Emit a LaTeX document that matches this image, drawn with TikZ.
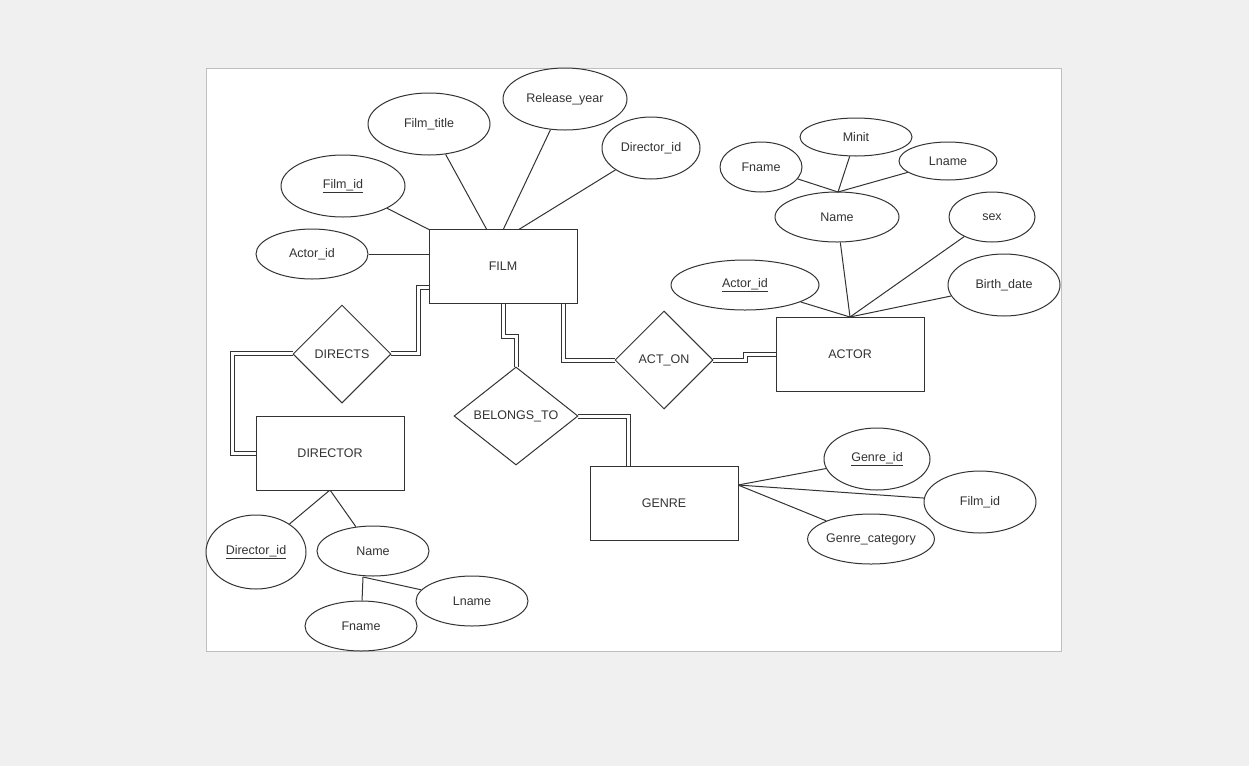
\documentclass[tikz,border=0pt]{standalone}
\usepackage{fontspec}
\setmainfont{Liberation Sans}
\usetikzlibrary{shapes.geometric}
\begin{document}
\begin{tikzpicture}[x=1pt,y=-1pt,
  every node/.style={font=\fontsize{12.5}{14}\selectfont, text=black!80},
  ent/.style={draw=black!80, line width=1pt, fill=white, minimum width=148pt, minimum height=74pt, inner sep=0pt},
  rel/.style={draw=black!80, line width=1pt, fill=white, diamond, inner sep=0pt, minimum width=#1, minimum height=98pt},
  att/.style args={#1/#2}{draw=black!80, line width=1pt, fill=white, ellipse, inner sep=0pt, minimum width=#1, minimum height=#2},
  ln/.style={draw=black!80, line width=1pt},
  dbl/.style={draw=black!80, line width=5pt, postaction={draw=white, line width=3pt}}]
\fill[black!6] (0,0) rectangle (1249,766);
\fill[white] (206,68) rectangle (1061,651);
\draw[black!25] (206,68) rectangle (1061,651);
\useasboundingbox (0,0) rectangle (1249,766);
\coordinate (fa) at (487,230); \coordinate (fb) at (503,230); \coordinate (fc) at (518,230);
\coordinate (fd) at (430,230); \coordinate (fe) at (430,254);
\coordinate (ap) at (850,317); \coordinate (np) at (838,192);
\coordinate (gp) at (738,485); \coordinate (dp) at (330,490); \coordinate (dn) at (363,577);
\node[att=122pt/62pt] (ftitle) at (429,124) {Film\_title};
\node[att=124pt/62pt] (ryear) at (565,99) {Release\_year};
\node[att=98pt/62pt] (dirid) at (651,148) {Director\_id};
\node[att=124pt/62pt] (filmid) at (343,186) {\underline{Film\_id}};
\node[att=112pt/50pt] (actid) at (312,254) {Actor\_id};
\node[att=112pt/38pt] (minit) at (856,137) {Minit};
\node[att=82pt/50pt] (afname) at (761,167) {Fname};
\node[att=98pt/38pt] (alname) at (948,161) {Lname};
\node[att=124pt/50pt] (aname) at (837,217) {Name};
\node[att=86pt/50pt] (sex) at (992,217) {sex};
\node[att=148pt/50pt] (aid) at (745,285) {\underline{Actor\_id}};
\node[att=112pt/62pt] (bdate) at (1004,285) {Birth\_date};
\node[att=106pt/62pt] (gid) at (877,459) {\underline{Genre\_id}};
\node[att=112pt/62pt] (gfid) at (980,502) {Film\_id};
\node[att=118pt/50pt] (gcat) at (871,539) {Genre\_category};
\node[att=100pt/74pt] (did) at (256,552) {\underline{Director\_id}};
\node[att=112pt/50pt] (dname) at (373,551) {Name};
\node[att=112pt/50pt] (dlname) at (472,601) {Lname};
\node[att=112pt/50pt] (dfname) at (361,626) {Fname};
\draw[ln] (ftitle) -- (fa); \draw[ln] (ryear) -- (fb); \draw[ln] (dirid) -- (fc);
\draw[ln] (filmid) -- (fd); \draw[ln] (actid) -- (fe);
\draw[ln] (aname) -- (ap); \draw[ln] (sex) -- (ap); \draw[ln] (bdate) -- (ap); \draw[ln] (aid) -- (ap);
\draw[ln] (afname) -- (np); \draw[ln] (minit) -- (np); \draw[ln] (alname) -- (np);
\draw[ln] (gid) -- (gp); \draw[ln] (gfid) -- (gp); \draw[ln] (gcat) -- (gp);
\draw[ln] (dp) -- (did); \draw[ln] (dp) -- (dname);
\draw[ln] (dn) -- (dlname); \draw[ln] (dn) -- (dfname);
\coordinate (c1) at (430,287); \coordinate (c2) at (418,287); \coordinate (c3) at (418,353);
\coordinate (c4) at (232,353); \coordinate (c5) at (232,453);
\coordinate (c6) at (503,303); \coordinate (c7) at (503,336); \coordinate (c8) at (516,336);
\coordinate (c9) at (628,416); \coordinate (c10) at (628,466);
\coordinate (c11) at (563,303); \coordinate (c12) at (563,360);
\coordinate (c13) at (745,360); \coordinate (c14) at (745,354);
\draw[dbl] (c1) -- (c2) -- (c3) -- (391,353);
\draw[dbl] (293,353) -- (c4) -- (c5) -- (256,453);
\draw[dbl] (c6) -- (c7) -- (c8) -- (516,367);
\draw[dbl] (578,416) -- (c9) -- (c10);
\draw[dbl] (c11) -- (c12) -- (615,360);
\draw[dbl] (713,360) -- (c13) -- (c14) -- (776,354);
\node[ent] (film) at (503,266) {FILM};
\node[ent] (actor) at (850,354) {ACTOR};
\node[ent] (director) at (330,453) {DIRECTOR};
\node[ent] (genre) at (664,503) {GENRE};
\node[rel=98pt] (directs) at (342,354) {DIRECTS};
\node[rel=98pt] (acton) at (664,360) {ACT\_ON};
\node[rel=124pt] (belongs) at (516,416) {BELONGS\_TO};
\end{tikzpicture}
\end{document}
